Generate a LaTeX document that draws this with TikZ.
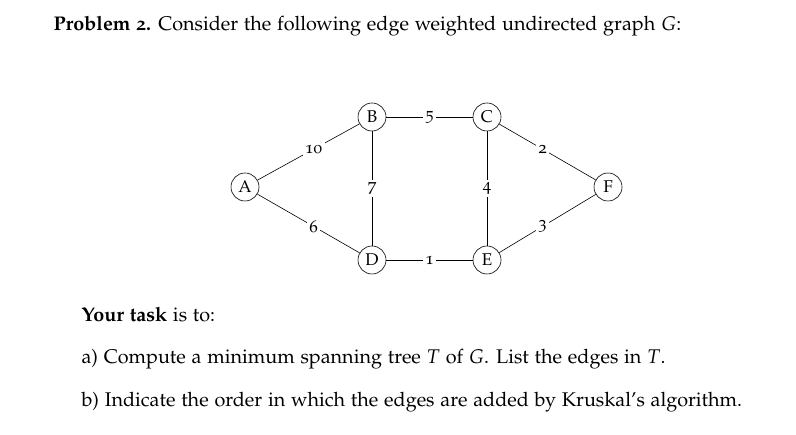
\documentclass[tikz,border=0pt]{standalone}
\usepackage[T1]{fontenc}
\usepackage[sc,osf]{mathpazo}
\begin{document}
\begin{tikzpicture}[x=1pt,y=-1pt,
  vert/.style={circle,draw,semithick,minimum size=28pt,inner sep=0pt,font=\fontsize{17}{19}\selectfont},
  wt/.style={fill=white,inner sep=2.5pt,font=\fontsize{17}{19}\selectfont},
  edge/.style={semithick}]
\useasboundingbox (0,0) rectangle (796,435);
\node[anchor=base west,font=\fontsize{19.8}{22}\selectfont] (title) at (50,31) {\textbf{Problem 2.} Consider the following edge weighted undirected graph $G$:};
\node[vert] (A) at (245,187) {A};
\node[vert] (B) at (372,117) {B};
\node[vert] (C) at (487,117) {C};
\node[vert] (D) at (372,260) {D};
\node[vert] (E) at (487,260) {E};
\node[vert] (F) at (608,187) {F};
\draw[edge] (A) -- node[wt,pos=0.55]{10} (B);
\draw[edge] (A) -- node[wt,pos=0.55]{6} (D);
\draw[edge] (B) -- node[wt]{5} (C);
\draw[edge] (B) -- node[wt]{7} (D);
\draw[edge] (C) -- node[wt]{4} (E);
\draw[edge] (D) -- node[wt]{1} (E);
\draw[edge] (C) -- node[wt,pos=0.45]{2} (F);
\draw[edge] (E) -- node[wt,pos=0.45]{3} (F);
\begin{scope}[font=\fontsize{19.8}{22}\selectfont]
\node[anchor=base west] (t1) at (78,322) {\textbf{Your task} is to:};
\node[anchor=base west] (t2) at (78,364) {a) Compute a minimum spanning tree $T$ of $G$. List the edges in $T$.};
\node[anchor=base west] (t3) at (78,407) {b) Indicate the order in which the edges are added by Kruskal's algorithm.};
\end{scope}
\end{tikzpicture}
\end{document}
